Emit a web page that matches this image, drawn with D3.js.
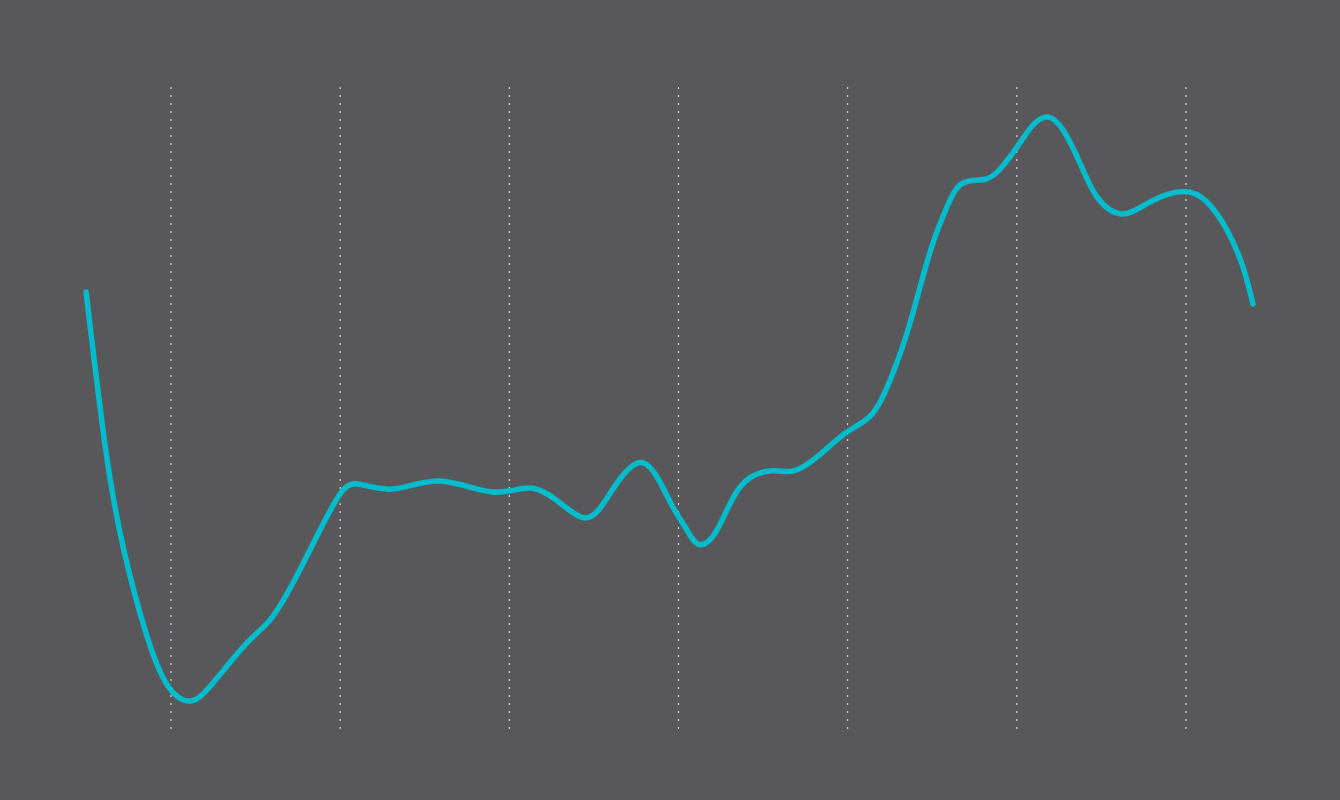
<!DOCTYPE html>
<html>
<head>
<meta charset="utf-8">
<script src="https://cdn.jsdelivr.net/npm/d3@7"></script>
<style>
  html, body { margin: 0; padding: 0; background: #58585a; }
  svg { display: block; }
</style>
</head>
<body>
<svg id="chart" width="1340" height="800"></svg>
<script>
// x positions in decimal years
var years = [2012.498, 2012.610, 2012.716, 2012.852, 2012.982, 2013.115,
  2013.248, 2013.449, 2013.585, 2013.721, 2013.881, 2013.999, 2014.105,
  2014.312, 2014.590, 2014.898, 2015.122, 2015.300, 2015.447, 2015.554, 2015.654,
  2015.772, 2015.873, 2015.967, 2016.050, 2016.121, 2016.228, 2016.364, 2016.541,
  2016.677, 2016.819, 2016.996, 2017.150, 2017.268, 2017.351, 2017.428, 2017.504,
  2017.587, 2017.664, 2017.770, 2017.871, 2018.001, 2018.096, 2018.184, 2018.273,
  2018.373, 2018.474, 2018.622, 2018.787, 2018.982, 2019.124, 2019.242, 2019.337, 2019.396];

var values = [68.07, 44.24, 28.50, 14.95, 6.70, 4.36,
  7.17, 13.40, 16.98, 22.74, 31.00, 36.60, 38.16,
  37.38, 38.63, 36.92, 37.54, 35.20, 32.87, 35.05, 38.94,
  41.51, 39.25, 34.58, 31.00, 28.74, 31.00, 37.69, 40.19,
  40.19, 42.37, 46.26, 49.22, 55.45, 61.68, 68.85, 75.70,
  81.31, 84.74, 85.51, 86.45, 90.65, 94.08, 95.33, 93.30,
  88.16, 82.87, 80.22, 82.09, 83.72, 82.09, 77.73, 71.96, 66.20];

var tickYears = [2013, 2014, 2015, 2016, 2017, 2018, 2019];

var svg = d3.select("#chart");

var x = d3.scaleLinear()
    .domain([2013, 2019])
    .range([171, 1186]);

var y = d3.scaleLinear()
    .domain([0, 100])
    .range([729, 87]);

// dotted vertical grid
svg.append("g")
    .attr("class", "grid")
    .selectAll("line")
    .data(tickYears)
    .enter().append("line")
    .attr("x1", function (d) { return x(d); })
    .attr("x2", function (d) { return x(d); })
    .attr("y1", y(100))
    .attr("y2", y(0))
    .style("stroke", "#ececec")
    .style("stroke-width", 1)
    .style("stroke-dasharray", "2,6");

var points = years.map(function (d, i) { return [d, values[i]]; });

var line = d3.line()
    .x(function (d) { return x(d[0]); })
    .y(function (d) { return y(d[1]); })
    .curve(d3.curveNatural);

svg.append("path")
    .datum(points)
    .attr("d", line)
    .style("fill", "none")
    .style("stroke", "#00bccd")
    .style("stroke-width", 5.5)
    .style("stroke-linecap", "round")
    .style("stroke-linejoin", "round");
</script>
</body>
</html>
